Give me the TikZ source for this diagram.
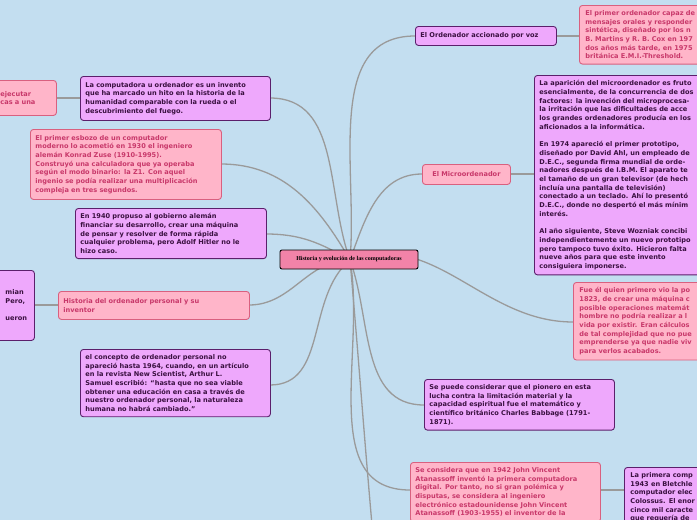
\documentclass[tikz,border=0pt]{standalone}
\usepackage{fontspec}
\setmainfont{DejaVu Sans}
\newfontfamily\titlefont{Liberation Serif}
\definecolor{bg}{HTML}{C3DEF0}
\definecolor{pfill}{HTML}{EEA8FC}
\definecolor{pdraw}{HTML}{5B1F6B}
\definecolor{ptext}{HTML}{3A1040}
\definecolor{kfill}{HTML}{FFB5C9}
\definecolor{kdraw}{HTML}{D9607F}
\definecolor{ktext}{HTML}{C8386A}
\definecolor{cfill}{HTML}{F283A8}
\definecolor{link}{HTML}{9A9A9A}
\tikzset{
 base/.style={rounded corners=3pt, line width=0.9pt, inner sep=5pt, align=left, anchor=north west,
   font=\fontsize{6.6}{8.7}\selectfont\bfseries},
 pbox/.style={base, fill=pfill, draw=pdraw, text=ptext},
 kbox/.style={base, fill=kfill, draw=kdraw, text=ktext},
 lnk/.style={draw=link, line width=1.3pt},
}
\begin{document}
\begin{tikzpicture}[x=1pt,y=-1pt]
\useasboundingbox (0,0) rectangle (697,520);
\fill[bg] (0,0) rectangle (697,520);
\coordinate (hub) at (350,260);
\coordinate (down) at (372,525);

% connectors
\begin{scope}[lnk]
\draw (hub) to[out=85,in=180] (415,36);
\draw (hub) to[out=70,in=180] (422,174);
\draw (hub) to[out=20,in=180] (573,322);
\draw (hub) to[out=-70,in=180] (424,405);
\draw (hub) to[out=-80,in=180] (410,490);
\draw (hub) to[out=-85,in=95] (down);
\draw (hub) to[out=110,in=0] (270,98);
\draw (hub) to[out=120,in=0] (221,164);
\draw (hub) to[out=150,in=0] (266,234);
\draw (hub) to[out=180,in=0] (249,305);
\draw (hub) to[out=-140,in=0] (270,385);
\draw (556,36) -- (579,36);
\draw (510,174) -- (534,174);
\draw (58,305) -- (34,305);
\draw (80,98) -- (56,98);
\draw (600,490) -- (624,490);
\end{scope}

\node[draw=black, fill=cfill, rounded corners=2pt, line width=0.9pt, minimum width=138pt, minimum height=19pt, inner sep=2pt,
  font=\titlefont\fontsize{6}{7}\selectfont\bfseries] (root) at (349,259.5) {Historia y evolución de las computadoras};

% left side
\node[kbox, minimum height=35pt, text width=136pt] (lk) at (-90,80) {\hspace*{85pt}ejecutar\\\hspace*{85pt}cas a una};
\node[pbox, minimum height=44pt, text width=180pt] (inv) at (80,76) {La computadora u ordenador es un invento\\que ha marcado un hito en la historia de la\\humanidad comparable con la rueda o el\\descubrimiento del fuego.};
\node[kbox, minimum height=70pt, text width=181pt, inner xsep=5pt] (zuse) at (30,129) {El primer esbozo de un computador\\moderno lo acometió en 1930 el ingeniero\\alemán Konrad Zuse (1910-1995).\\Construyó una calculadora que ya operaba\\según el modo binario: la Z1. Con aquel\\ingenio se podía realizar una multiplicación\\compleja en tres segundos.};
\node[pbox, text width=181pt, inner xsep=5pt] (h40) at (75,208) {En 1940 propuso al gobierno alemán\\financiar su desarrollo, crear una máquina\\de pensar y resolver de forma rápida\\cualquier problema, pero Adolf Hitler no le\\hizo caso.};
\node[pbox, minimum height=70pt, text width=120pt] (lp) at (-96,270) {\hspace*{96pt}mian\\\hspace*{96pt}Pero,\\ \mbox{}\\\hspace*{96pt}ueron};
\node[kbox, minimum height=28pt, text width=181pt, inner xsep=5pt] (hist) at (58,291) {Historia del ordenador personal y su\\inventor};
\node[pbox, text width=180pt, inner xsep=5pt] (conc) at (80,349) {el concepto de ordenador personal no\\apareció hasta 1964, cuando, en un artículo\\en la revista New Scientist, Arthur L.\\Samuel escribió: “hasta que no sea viable\\obtener una educación en casa a través de\\nuestro ordenador personal, la naturaleza\\humana no habrá cambiado.”};

% right side
\node[pbox, minimum height=19pt, text width=131pt, inner ysep=3pt] (voz) at (415,26) {El Ordenador accionado por voz};
\node[kbox, text width=160pt, inner xsep=6pt] (vk) at (579,5) {El primer ordenador capaz de\\mensajes orales y responder\\sintética, diseñado por los n\\B. Martins y R. B. Cox en 197\\dos años más tarde, en 1975\\británica E.M.I.-Threshold.};
\node[kbox, minimum height=20pt, text width=78pt, inner ysep=3pt] (micro) at (422,164) {\hfill El Microordenador\hfill\null};
\node[pbox, text width=175pt] (big) at (534,75) {La aparición del microordenador es fruto\\esencialmente, de la concurrencia de dos\\factores: la invención del microprocesa-\\la irritación que las dificultades de acce\\los grandes ordenadores producía en los\\aficionados a la informática.\\[8.7pt]En 1974 apareció el primer prototipo,\\diseñado por David Ahl, un empleado de\\D.E.C., segunda firma mundial de orde-\\nadores después de I.B.M. El aparato te\\el tamaño de un gran televisor (de hech\\incluía una pantalla de televisión)\\conectado a un teclado. Ahí lo presentó\\D.E.C., donde no despertó el más mínim\\interés.\\[8.7pt]Al año siguiente, Steve Wozniak concibi\\independientemente un nuevo prototipo\\pero tampoco tuvo éxito. Hicieron falta\\nueve años para que este invento\\consiguiera imponerse.};
\node[kbox, text width=160pt, inner xsep=6pt] (fue) at (573,282) {Fue él quien primero vio la po\\1823, de crear una máquina c\\posible operaciones matemát\\hombre no podría realizar a l\\vida por existir. Eran cálculos\\de tal complejidad que no pue\\emprenderse ya que nadie viv\\para verlos acabados.};
\node[pbox, text width=180pt, inner xsep=5pt] (bab) at (424,379) {Se puede considerar que el pionero en esta\\lucha contra la limitación material y la\\capacidad espiritual fue el matemático y\\científico británico Charles Babbage (1791-\\1871).};
\node[kbox, text width=180pt, inner xsep=5pt] (ata) at (410,462) {Se considera que en 1942 John Vincent\\Atanassoff inventó la primera computadora\\digital. Por tanto, no si gran polémica y\\disputas, se considera al ingeniero\\electrónico estadounidense John Vincent\\Atanassoff (1903-1955) el inventor de la};
\node[pbox, text width=160pt, inner xsep=6pt] (col) at (624,467) {La primera comp\\1943 en Bletchle\\computador elec\\Colossus. El enor\\cinco mil caracte\\que requería de};
\end{tikzpicture}
\end{document}
